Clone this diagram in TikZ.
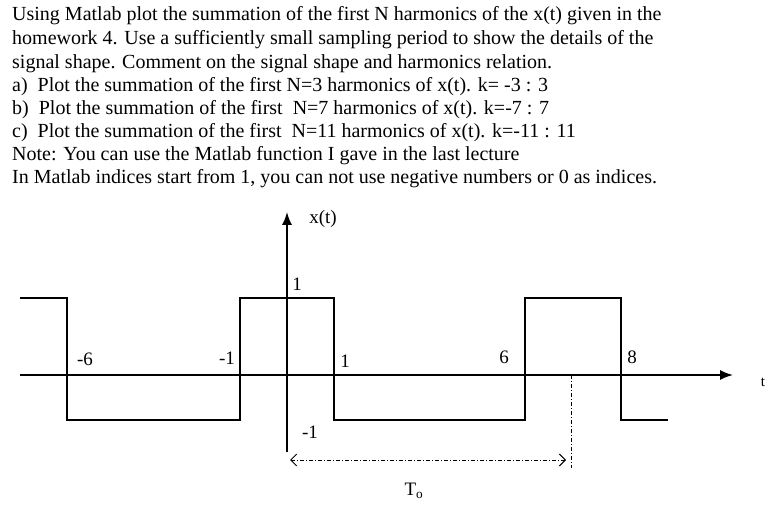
\documentclass[tikz,border=0pt]{standalone}
\usepackage{fontspec}
\setmainfont{Liberation Serif}
\usetikzlibrary{arrows.meta}
\tikzset{
  txt/.style={anchor=west, inner sep=0pt, font=\fontsize{20}{22}\selectfont},
  lbl/.style={inner sep=0pt, font=\fontsize{19}{21}\selectfont},
  sig/.style={line width=1.2pt},
  ax/.style={line width=1.6pt, -{Latex[length=13pt,width=10pt]}},
  dd/.style={thin, dash pattern=on 4pt off 2pt on 1pt off 2pt}
}
\begin{document}
\begin{tikzpicture}[x=1pt,y=-1pt]
  \useasboundingbox (0,0) rectangle (780,513);
  % question text
  \node[txt] (l1) at (12,16)  {Using Matlab plot the summation of the first N harmonics of the x(t) given in the};
  \node[txt] (l2) at (12,40)  {homework 4. Use a sufficiently small sampling period to show the details of the};
  \node[txt] (l3) at (12,64)  {signal shape. Comment on the signal shape and harmonics relation.};
  \node[txt] (l4) at (12,87)  {a)\ \ Plot the summation of the first N=3 harmonics of x(t). k= -3 : 3};
  \node[txt] (l5) at (12,110) {b)\ \ Plot the summation of the first\ \ N=7 harmonics of x(t). k=-7 : 7};
  \node[txt] (l6) at (12,133) {c)\ \ Plot the summation of the first\ \ N=11 harmonics of x(t). k=-11 : 11};
  \node[txt] (l7) at (12,156) {Note: You can use the Matlab function I gave in the last lecture};
  \node[txt] (l8) at (12,179) {In Matlab indices start from 1, you can not use negative numbers or 0 as indices.};
  % axes
  \coordinate (xs) at (20,375);
  \coordinate (xe) at (733,375);
  \coordinate (ys) at (287,452);
  \coordinate (ye) at (287,212);
  \draw[ax] (xs) -- (xe);
  \draw[ax] (ys) -- (ye);
  \node[lbl] (xt) at (323,219) {x(t)};
  \node[lbl, font=\fontsize{15}{17}\selectfont] (tl) at (763,382) {t};
  % signal
  \draw[sig] (20,298) -- (67,298) -- (67,420) -- (240,420) -- (240,298) -- (334,298)
    -- (334,420) -- (525,420) -- (525,298) -- (621,298) -- (621,420) -- (668,420);
  % tick labels
  \node[lbl] (m6) at (85,359) {-6};
  \node[lbl] (m1) at (227,358) {-1};
  \node[lbl] (p1) at (345,361) {1};
  \node[lbl] (p6) at (504,357) {6};
  \node[lbl] (p8) at (632,357) {8};
  \node[lbl] (hi) at (297,284) {1};
  \node[lbl] (lo) at (310,432) {-1};
  % period
  \coordinate (pa) at (290,460);
  \coordinate (pb) at (566,460);
  \draw[dd] (571,375) -- (571,468);
  \draw[dd, line width=1pt, {Straight Barb[length=6pt,width=12pt]}-{Straight Barb[length=6pt,width=12pt]}] (pa) -- (pb);
  \node[lbl] (T0) at (414,491) {T\textsubscript{o}};
\end{tikzpicture}
\end{document}
